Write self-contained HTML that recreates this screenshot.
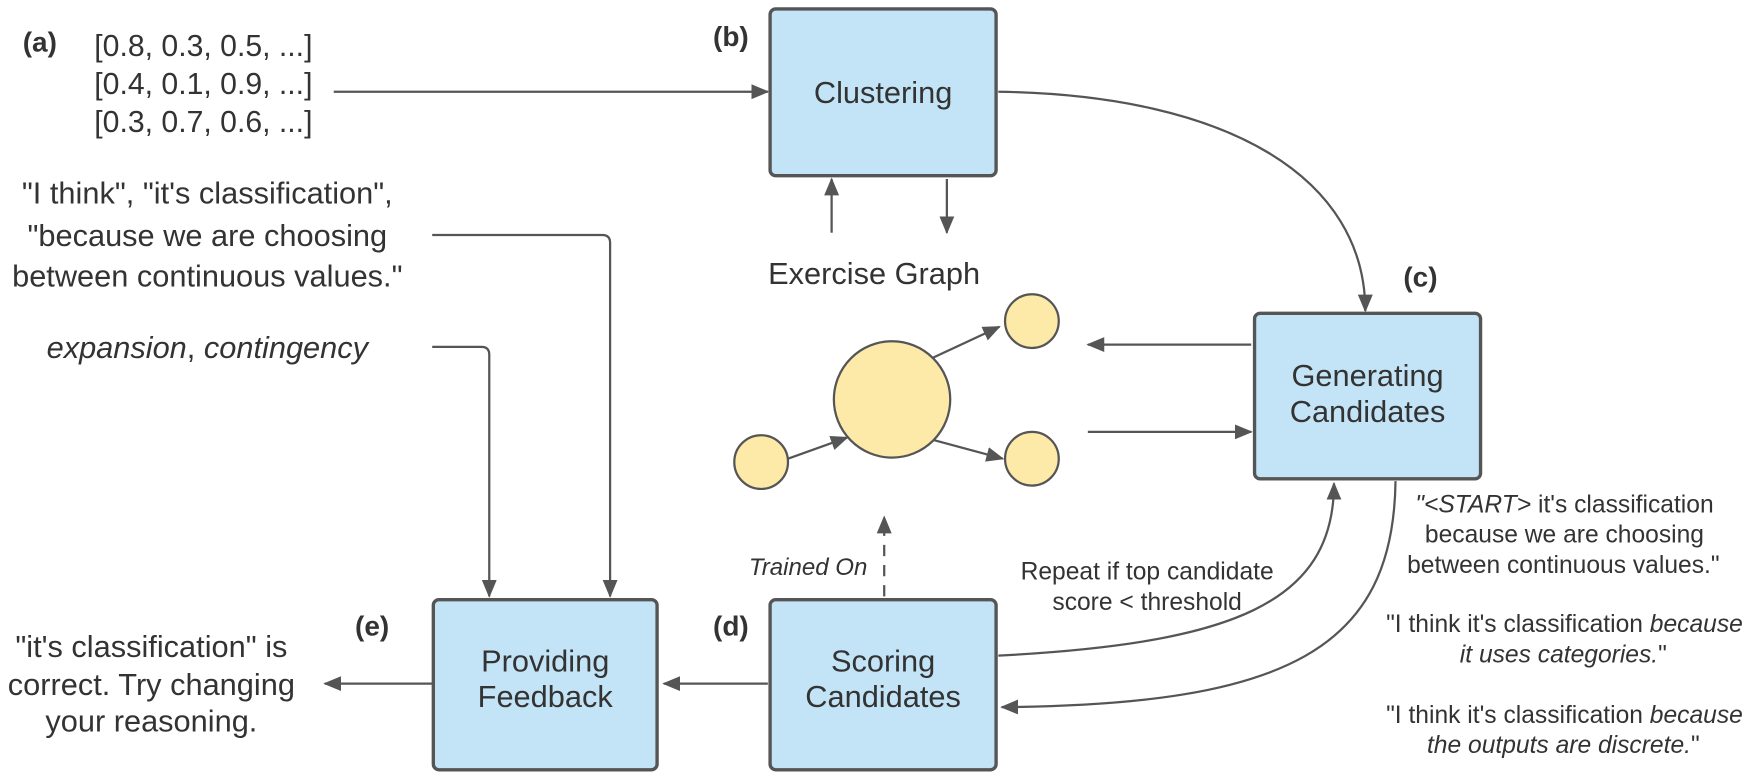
<!DOCTYPE html>
<html><head><meta charset="utf-8"><style>
html,body{margin:0;padding:0;background:#fff}
svg{display:block}
text{font-family:"Liberation Sans",sans-serif;fill:#333}
</style></head><body>
<svg width="1755" height="772" viewBox="0 0 1568 690" xmlns="http://www.w3.org/2000/svg">
<defs>
<marker id="ah" viewBox="0 0 12 10" refX="11" refY="5" markerWidth="16" markerHeight="14" orient="auto" markerUnits="userSpaceOnUse"><path d="M0,0 L12,5 L0,10 z" fill="#555"/></marker>
</defs>
<g stroke="#555" stroke-width="2" fill="none">
<line x1="298" y1="82" x2="686" y2="82" marker-end="url(#ah)"/>
<line x1="743" y1="208" x2="743" y2="160" marker-end="url(#ah)"/>
<line x1="846" y1="160" x2="846" y2="208" marker-end="url(#ah)"/>
<path d="M892,82 C1100,85 1220,160 1220,278" marker-end="url(#ah)"/>
<line x1="1118" y1="308" x2="972" y2="308" marker-end="url(#ah)"/>
<line x1="972" y1="386" x2="1118" y2="386" marker-end="url(#ah)"/>
<path d="M386,210 H538 Q545,210 545,217 V533" marker-end="url(#ah)"/>
<path d="M386,310 H430 Q437,310 437,317 V533" marker-end="url(#ah)"/>
<line x1="686" y1="611" x2="593" y2="611" marker-end="url(#ah)"/>
<line x1="386" y1="611" x2="290" y2="611" marker-end="url(#ah)"/>
<line x1="790" y1="533" x2="790" y2="462" stroke-dasharray="10,8" marker-end="url(#ah)"/>
<path d="M892,586 C1100,575 1192,540 1192,432" marker-end="url(#ah)"/>
<path d="M1247,430 C1245,580 1150,630 895,632" marker-end="url(#ah)"/>
<line x1="833" y1="320" x2="893" y2="292" marker-end="url(#ah)"/>
<line x1="833" y1="393" x2="896" y2="410" marker-end="url(#ah)"/>
<line x1="704" y1="410" x2="757" y2="391" marker-end="url(#ah)"/>
</g>
<g stroke="#555" stroke-width="3" fill="#c3e4f6">
<rect x="688" y="8" width="202" height="149" rx="5"/>
<rect x="1121" y="280" width="202" height="148" rx="5"/>
<rect x="387" y="536" width="200" height="152" rx="5"/>
<rect x="688" y="536" width="202" height="152" rx="5"/>
</g>
<g stroke="#555" stroke-width="2" fill="#fde9a8">
<circle cx="797" cy="357" r="52"/>
<circle cx="922" cy="287" r="24"/>
<circle cx="680" cy="413" r="24"/>
<circle cx="922" cy="410" r="24"/>
</g>
<g font-size="27.5" text-anchor="middle">
<text x="789" y="92">Clustering</text>
<text x="1222" y="345">Generating</text>
<text x="1222" y="377">Candidates</text>
<text x="487" y="600">Providing</text>
<text x="487" y="632">Feedback</text>
<text x="789" y="600">Scoring</text>
<text x="789" y="632">Candidates</text>
<text x="781" y="254">Exercise Graph</text>
</g>
<g font-size="25" font-weight="bold">
<text x="20" y="46">(a)</text>
<text x="637" y="41">(b)</text>
<text x="1254" y="256">(c)</text>
<text x="637" y="568">(d)</text>
<text x="317" y="568">(e)</text>
</g>
<g font-size="27">
<text x="84" y="50">[0.8, 0.3, 0.5, ...]</text>
<text x="84" y="84">[0.4, 0.1, 0.9, ...]</text>
<text x="84" y="118">[0.3, 0.7, 0.6, ...]</text>
</g>
<g font-size="27.5" text-anchor="middle">
<text x="185" y="182">"I think", "it's classification",</text>
<text x="185" y="220">"because we are choosing</text>
<text x="185" y="256">between continuous values."</text>
<text x="185" y="320" font-style="italic">expansion<tspan font-style="normal">, </tspan>contingency</text>
<text x="135" y="587">"it's classification" is</text>
<text x="135" y="621">correct. Try changing</text>
<text x="135" y="654">your reasoning.</text>
</g>
<text x="669" y="514" font-size="21.5" font-style="italic">Trained On</text>
<g font-size="22" text-anchor="middle">
<text x="1025" y="518">Repeat if top candidate</text>
<text x="1025" y="545">score &lt; threshold</text>
<text x="1398" y="458"><tspan font-style="italic">"&lt;START&gt;</tspan> it's classification</text>
<text x="1398" y="485">because we are choosing</text>
<text x="1397" y="512">between continuous values."</text>
<text x="1398" y="565">"I think it's classification <tspan font-style="italic">because</tspan></text>
<text x="1397" y="592"><tspan font-style="italic">it uses categories.</tspan>"</text>
<text x="1398" y="646">"I think it's classification <tspan font-style="italic">because</tspan></text>
<text x="1397" y="673"><tspan font-style="italic">the outputs are discrete.</tspan>"</text>
</g>
</svg>
</body></html>
